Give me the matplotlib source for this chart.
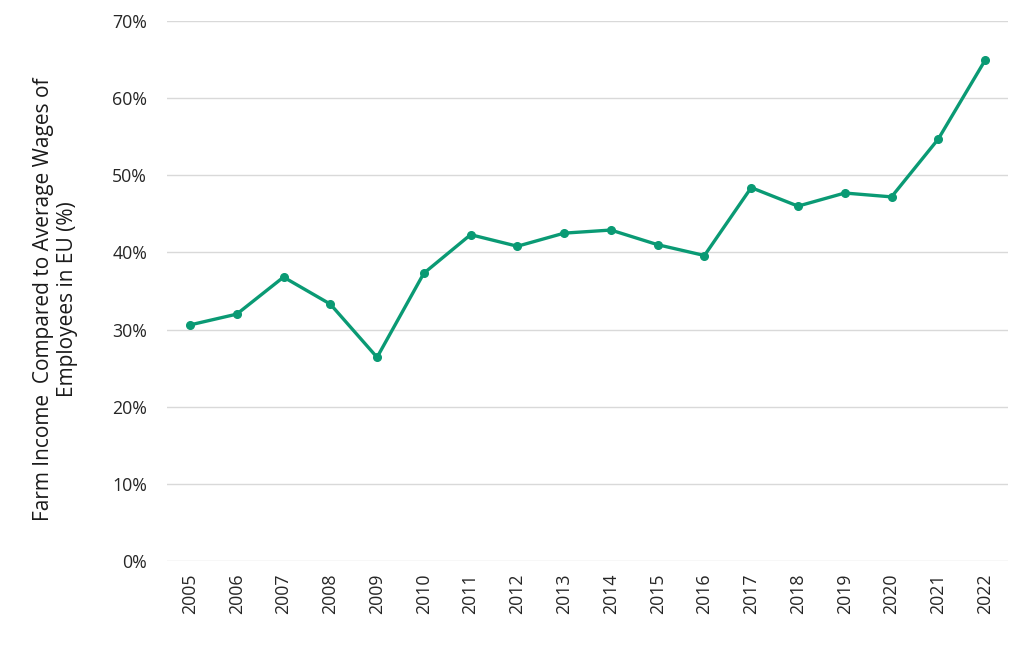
import matplotlib
matplotlib.use("Agg")
import matplotlib.pyplot as plt
from matplotlib.ticker import FuncFormatter

years = [str(y) for y in range(2005, 2023)]
values = [30.6, 32.0, 36.8, 33.3, 26.4, 37.3, 42.3, 40.8, 42.5, 42.9,
          41.0, 39.6, 48.4, 46.0, 47.7, 47.2, 54.7, 64.9]
y_ticks = [0, 10, 20, 30, 40, 50, 60, 70]
y_label = "Farm Income  Compared to Average Wages of\nEmployees in EU (%)"

plt.rcParams['font.family'] = ['Open Sans', 'DejaVu Sans']

fig = plt.figure(figsize=(10.24, 6.46), dpi=100)
ax = fig.add_axes([0.1627, 0.1316, 0.8221, 0.8359])

x = list(range(len(years)))
ax.plot(x, values, color='#0A9A74', linewidth=2.4, marker='o', markersize=5.5,
        solid_joinstyle='round')

ax.set_xlim(-0.5, len(years) - 0.5)
ax.set_ylim(0, 70)
ax.set_yticks(y_ticks)
ax.yaxis.set_major_formatter(FuncFormatter(lambda v, p: f"{int(v)}%"))
ax.set_xticks(x)
ax.set_xticklabels(years, rotation=90)
ax.grid(axis='y', color='#D9D9D9', linewidth=1.0)
ax.set_axisbelow(True)
for s in ax.spines.values():
    s.set_visible(False)
ax.tick_params(axis='both', length=0, labelsize=12.8, colors='#262626')
ax.tick_params(axis='y', pad=14)
ax.tick_params(axis='x', pad=9)

fig.text(0.0545, 0.5364, y_label, rotation=90, ha='center', va='center',
         multialignment='center', fontsize=15, color='#1a1a1a', linespacing=1.2)

fig.savefig("out.png", dpi=100)
